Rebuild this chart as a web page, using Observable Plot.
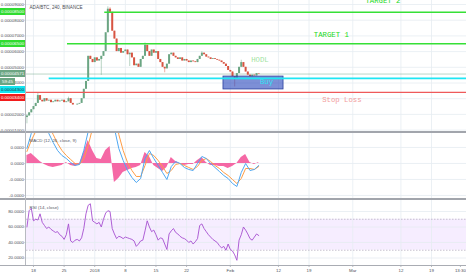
<!DOCTYPE html>
<html><head><meta charset="utf-8">
<script src="https://cdn.jsdelivr.net/npm/d3@7"></script>
<script src="https://cdn.jsdelivr.net/npm/@observablehq/plot@0.6"></script>
<style>
html,body{margin:0;padding:0;background:#fff;}
#wrap{position:relative;width:466px;height:275px;overflow:hidden;background:#fff;}
#wrap svg{position:absolute;left:0;display:block;}
.ln{position:absolute;}
.tag{position:absolute;left:0;height:7px;line-height:7px;font-family:'Liberation Sans',Arial,sans-serif;font-size:4.4px;text-align:center;white-space:nowrap;overflow:hidden;}
</style></head><body>
<div id="wrap"></div>
<script>
// ---------------- data ----------------
const symbolTitle = "ADA/BTC, 240, BINANCE";
const macdTitle = "MACD (12, 26, close, 9)";
const rsiTitle = "RSI (14, close)";

// candles, 12h steps, prices in satoshi
const candleStart = "2017-12-16T12:00:00Z";
const firstOpen = 1800;
const closes = [
  1900,2100,2300,2500,2700,3200,2900,2800,3000,2850,
  2900,2750,2800,2900,2800,2850,2900,2750,2800,3000,
  2700,2600,2600,2650,2700,3000,3600,4100,5700,5500,
  5300,5600,5400,5500,5700,6000,7200,8700,8500,7300,
  6800,6000,6200,5900,6000,6100,5800,5900,5600,5100,
  5200,5000,5500,5700,6400,6000,5700,6100,5900,6000,
  5500,5300,5000,4900,5200,5800,5900,5700,5600,5500,
  5600,5400,5500,5400,5300,5400,5350,5300,5500,5700,
  5900,5800,5650,5600,5500,5550,5500,5450,5400,5300,
  5200,5050,4800,4700,4400,4300,4600,5000,5300,5000,
  4700,4500,4400,4500,4450,4600,4571
];
const extraHigh = [[0,2000],[5,3340],[19,3100],[37,8850],[38,8800],[54,6550],[80,6000],[98,5450]];
const extraLow = [[0,1400],[34,4480],[47,5050],[63,4650],[95,3750]];

const rsiValues = [
  60,81,84,68,70,69,77,66,62,58,
  60,57,55,53,54,50,48,44,50,64,
  42,40,43,44,42,46,58,77,88,90,
  68,66,64,66,60,70,78,81,80,58,
  51,45,48,47,45,47,46,45,44,42,
  35,38,42,43,55,68,60,54,56,50,
  43,46,45,38,31,51,55,58,53,51,
  48,46,45,43,40,42,38,41,45,62,
  64,58,54,50,47,44,42,40,36,33,
  35,30,38,31,29,24,17,43,50,60,
  56,51,45,43,47,51,49
];

// daily MACD (satoshi units)
const dailyStart = "2017-12-16T12:00:00Z";
const macdValues = [
  470,940,1300,1500,1400,940,656,406,250,156,
  31,-62,-31,406,1000,1800,2300,2400,2800,3200,
  1100,470,94,-219,-437,-594,-469,156,406,156,
  -62,-281,-500,-94,62,0,-125,-187,-219,0,
  219,156,0,-125,-250,-375,-469,-625,-719,-281,
  0,-219,-187,-62
];
const signalValues = [
  375,719,1000,1200,1350,1200,906,625,406,250,
  125,0,-31,156,562,1100,1600,2000,2300,2600,
  2000,906,406,31,-219,-406,-406,-62,312,250,
  94,-94,-312,-219,-31,0,-62,-125,-187,-94,
  94,156,62,-62,-156,-281,-375,-500,-625,-469,
  -156,-156,-187,-94
];
const histValues = [
  250,312,187,62,-31,-94,-125,-94,-62,31,
  -62,-94,-31,344,719,406,156,125,406,531,
  -594,-469,-281,-219,-156,-125,-62,344,219,-62,
  -156,-250,-125,187,62,0,-62,-31,-31,94,
  187,31,-62,-62,-94,-94,-156,-94,0,187,
  281,31,-31,31
];

const levelNames = ["TARGET 2","TARGET 1","Buy","Stop Loss"];
const levelPrices = [8500,6500,4300,3400];
const levelStarts = ["2018-01-03T07:00:00Z","2017-12-25T18:30:00Z","2017-12-21T14:00:00Z",null];
const lastPrice = 4571;
const countdown = "59:45";
const buyZone = {from:"2018-01-30T10:30:00Z", to:"2018-02-13T04:00:00Z", low:3590, high:4410};
const noteTexts = ["TARGET 2","TARGET 1","HODL","Buy","Stop Loss"];

const priceTicks = [1000,2000,3000,4000,5000,6000,7000,8000,9000];
const macdTicks = [500,0,-500,-1000];
const rsiTicks = [20,40,60,80];
const rsiBand = [30,70];
const timeTicks = ["2017-12-18","2017-12-25","2018-01-01","2018-01-08","2018-01-15","2018-01-22",
  "2018-02-01","2018-02-12","2018-02-19","2018-03-01","2018-03-12","2018-03-19","2018-03-25T14:30"];
const timeTickLabels = ["18","25","2018","8","15","22","Feb","12","19","Mar","12","19","13:30"];

// ---------------- layout & style ----------------
const notePos = [
  {date:"2018-03-07T21:36:00Z", price:9240},
  {date:"2018-02-24T02:00:00Z", price:7070},
  {date:"2018-02-07T18:40:00Z", price:5497},
  {date:"2018-02-09T06:30:00Z", price:4096},
  {date:"2018-02-26T12:00:00Z", price:2950}
];
const noteStyle = {
  "TARGET 2": {fill:"#22d822", fontWeight:"bold"},
  "TARGET 1": {fill:"#22d822", fontWeight:"bold"},
  "HODL": {fill:"#9fe39f", fontWeight:"normal"},
  "Buy": {fill:"#2fe6f4", fontWeight:"normal"},
  "Stop Loss": {fill:"#f29c9c", fontWeight:"normal"}
};
const levelStyle = {
  "TARGET 2": {stroke:"#36e036", width:1.5, tag:"#30dc30", tagText:"#ffffff"},
  "TARGET 1": {stroke:"#36e036", width:1.5, tag:"#30dc30", tagText:"#ffffff"},
  "Buy": {stroke:"#1fe6f3", width:1.8, tag:"#14e4f0", tagText:"#10303a"},
  "Stop Loss": {stroke:"#ef5a5a", width:1.3, tag:"#f21c1c", tagText:"#ffffff"}
};
const UP = "#6ba583", DOWN = "#d75442";
const GRID = "#e6ecf1";
const AXT = "#4d5058";
const SANS = "'Liberation Sans',Arial,sans-serif";
const MONO = "'Liberation Mono','DejaVu Sans Mono',monospace";
const W = 466, ML = 26;
const t0 = new Date("2017-12-16T09:36:00Z"), t1 = new Date("2018-03-27T00:00:00Z");
const HOUR = 36e5;

// ---------------- derived tables ----------------
const hiMap = new Map(extraHigh), loMap = new Map(extraLow);
const candles = closes.map((c, i) => {
  const o = i === 0 ? firstOpen : closes[i - 1];
  return {
    date: new Date(Date.parse(candleStart) + i * 12 * HOUR),
    open: o, close: c,
    high: hiMap.has(i) ? hiMap.get(i) : Math.max(o, c),
    low: loMap.has(i) ? loMap.get(i) : Math.min(o, c)
  };
});
const upC = candles.filter(d => d.close >= d.open), downC = candles.filter(d => d.close < d.open);
const rsiData = rsiValues.map((v, i) => ({date: new Date(Date.parse(candleStart) + i * 12 * HOUR), v}));
const macdData = macdValues.map((v, i) => ({
  date: new Date(Date.parse(dailyStart) + i * 24 * HOUR), macd: v, signal: signalValues[i], hist: histValues[i]
}));
const levels = levelNames.map((n, i) => ({name: n, price: levelPrices[i], start: levelStarts[i] ? new Date(levelStarts[i]) : t0}));
const notes = noteTexts.map((t, i) => ({text: t, date: new Date(notePos[i].date), price: notePos[i].price}));
const tickDates = timeTicks.map(s => new Date(s.length > 10 ? s + ":00Z" : s + "T00:00:00Z"));
const tickLabel = new Map(tickDates.map((d, i) => [+d, timeTickLabels[i]]));
const gridDates = tickDates.slice(0, 12);

const wrap = document.getElementById("wrap");
const baseStyle = {background: "transparent", fontFamily: SANS, fontSize: "4.4px", overflow: "hidden"};

// ---------------- main price pane ----------------
const levelMarks = levels.map(l => Plot.ruleY([l], {
  y: "price", x1: "start", x2: () => t1, stroke: levelStyle[l.name].stroke, strokeWidth: levelStyle[l.name].width
}));
const main = Plot.plot({
  width: W, height: 131, marginLeft: ML, marginRight: 0, marginTop: 0, marginBottom: 0,
  style: baseStyle,
  x: {type: "utc", domain: [t0, t1], axis: null},
  y: {domain: [911, 9255]},
  marks: [
    Plot.gridX(gridDates, {stroke: GRID, strokeOpacity: 1, strokeWidth: 0.8}),
    Plot.gridY(priceTicks, {stroke: GRID, strokeOpacity: 1, strokeWidth: 0.8}),
    Plot.axisY(priceTicks, {anchor: "left", tickSize: 1.5, tickPadding: 1, fontSize: 4.4, fill: AXT, stroke: "#b7bac0",
      tickFormat: d => (d / 1e8).toFixed(8)}),
    Plot.ruleY([lastPrice], {stroke: UP, strokeOpacity: 0.45, strokeWidth: 1}),
    Plot.ruleX(upC, {x: "date", y1: "low", y2: "high", stroke: UP, strokeOpacity: 0.6, strokeWidth: 0.8}),
    Plot.ruleX(downC, {x: "date", y1: "low", y2: "high", stroke: DOWN, strokeOpacity: 0.6, strokeWidth: 0.8}),
    Plot.ruleX(upC, {x: "date", y1: "open", y2: "close", stroke: UP, strokeWidth: 2}),
    Plot.ruleX(downC, {x: "date", y1: "open", y2: "close", stroke: DOWN, strokeWidth: 2}),
    Plot.rect([buyZone], {x1: d => new Date(d.from), x2: d => new Date(d.to), y1: "low", y2: "high",
      fill: "#2d4bbd", fillOpacity: 0.62, stroke: "#2a3f9e", strokeWidth: 0.8}),
    ...levelMarks,
    Plot.text(notes, {x: "date", y: "price", text: "text", fontFamily: MONO, fontSize: 7.3,
      fill: d => noteStyle[d.text].fill, fontWeight: d => noteStyle[d.text].fontWeight}),
    Plot.text([symbolTitle], {frameAnchor: "top-left", textAnchor: "start", lineAnchor: "middle", dx: 3, dy: 6.7,
      fontSize: 4.6, fill: "#4a4d55"})
  ]
});
main.style.top = "0px";
wrap.appendChild(main);

// price tags on the axis, positioned with the chart's own y scale
const ys = main.scale("y");
const tags = [
  ...levels.filter(l => l.name.startsWith("TARGET")).map(l => ({text: (l.price / 1e8).toFixed(8), y: ys.apply(l.price), bg: levelStyle[l.name].tag, fg: levelStyle[l.name].tagText, w: 25})),
  {text: (lastPrice / 1e8).toFixed(8), y: ys.apply(lastPrice), bg: UP, fg: "#fff", w: 25},
  {text: countdown, y: ys.apply(lastPrice), bg: UP, fg: "#fff", w: 15},
  ...levels.filter(l => !l.name.startsWith("TARGET")).map(l => ({text: (l.price / 1e8).toFixed(8), y: ys.apply(l.price), bg: levelStyle[l.name].tag, fg: levelStyle[l.name].tagText, w: 25}))
];
let prev = -Infinity;
for (const t of tags) {
  const y = Math.max(t.y, prev + 8.1);
  prev = y;
  const el = document.createElement("div");
  el.className = "tag";
  el.textContent = t.text;
  el.style.cssText += `top:${y - 3.5}px;width:${t.w}px;background:${t.bg};color:${t.fg};`;
  wrap.appendChild(el);
}

// ---------------- MACD pane ----------------
const macd = Plot.plot({
  width: W, height: 65, marginLeft: ML, marginRight: 0, marginTop: 0, marginBottom: 0,
  style: {...baseStyle, background: "#fff"},
  x: {type: "utc", domain: [t0, t1], axis: null},
  y: {domain: [-1094, 937]},
  marks: [
    Plot.gridX(gridDates, {stroke: GRID, strokeOpacity: 1, strokeWidth: 0.8}),
    Plot.gridY(macdTicks, {stroke: GRID, strokeOpacity: 1, strokeWidth: 0.8}),
    Plot.axisY(macdTicks, {anchor: "left", tickSize: 1.5, tickPadding: 1, fontSize: 4.4, fill: AXT, stroke: "#b7bac0",
      tickFormat: d => (d / 1e8).toFixed(4)}),
    Plot.areaY(macdData, {x: "date", y: "hist", fill: "#f4589b", fillOpacity: 0.9, clip: true}),
    Plot.lineY(macdData, {x: "date", y: "signal", stroke: "#ff9d45", strokeWidth: 1, clip: true}),
    Plot.lineY(macdData, {x: "date", y: "macd", stroke: "#4fa8f2", strokeWidth: 1, clip: true}),
    Plot.text([macdTitle], {frameAnchor: "top-left", textAnchor: "start", lineAnchor: "middle", dx: 3, dy: 7,
      fontSize: 4.4, fill: "#55585f"})
  ]
});
macd.style.top = "133px";
wrap.appendChild(macd);

// ---------------- RSI pane ----------------
const rsi = Plot.plot({
  width: W, height: 75, marginLeft: ML, marginRight: 0, marginTop: 0, marginBottom: 10,
  style: {...baseStyle, background: "#fff"},
  x: {type: "utc", domain: [t0, t1]},
  y: {domain: [10.3, 94.2]},
  marks: [
    Plot.rectY([{lo: rsiBand[0], hi: rsiBand[1]}], {y1: "lo", y2: "hi", fill: "#a033ff", fillOpacity: 0.09}),
    Plot.gridX(gridDates, {stroke: GRID, strokeOpacity: 1, strokeWidth: 0.8}),
    Plot.gridY(rsiTicks, {stroke: GRID, strokeOpacity: 1, strokeWidth: 0.8}),
    Plot.ruleY(rsiBand, {stroke: "#b9b2c2", strokeWidth: 0.8, strokeDasharray: "1.5,1.5"}),
    Plot.axisY(rsiTicks, {anchor: "left", tickSize: 1.5, tickPadding: 1, fontSize: 4.4, fill: AXT, stroke: "#b7bac0",
      tickFormat: d => d.toFixed(4)}),
    Plot.axisX(tickDates, {anchor: "bottom", tickSize: 2, tickPadding: 1, fontSize: 4.4, fill: AXT, stroke: "#b7bac0",
      tickFormat: d => tickLabel.get(+d)}),
    Plot.lineY(rsiData, {x: "date", y: "v", stroke: "#a64fd0", strokeWidth: 0.9}),
    Plot.text([rsiTitle], {frameAnchor: "top-left", textAnchor: "start", lineAnchor: "middle", dx: 3, dy: 6.7,
      fontSize: 4.4, fill: "#55585f"})
  ]
});
rsi.style.top = "200px";
wrap.appendChild(rsi);

// pane separators and axis lines
function line(css) { const d = document.createElement("div"); d.className = "ln"; d.style.cssText = css; wrap.appendChild(d); }
line("left:0;top:131px;width:466px;height:2px;background:#a2a5ac;");
line("left:0;top:198px;width:466px;height:2px;background:#a2a5ac;");
line("left:0;top:265px;width:466px;height:1px;background:#a9acb3;");
line("left:25px;top:0;width:1px;height:265px;background:#b7bac0;");
</script>
</body></html>
